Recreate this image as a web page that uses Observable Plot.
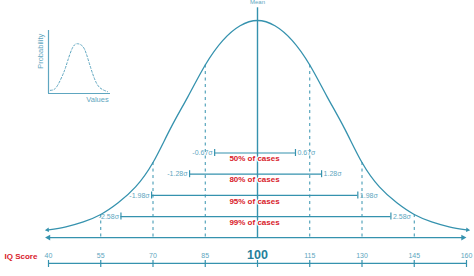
<!DOCTYPE html>
<html>
<head>
<meta charset="utf-8">
<script src="https://cdn.jsdelivr.net/npm/d3@7"></script>
<script src="https://cdn.jsdelivr.net/npm/@observablehq/plot@0.6"></script>
<style>
  html, body { margin: 0; padding: 0; background: #fff; }
  #wrap { position: relative; width: 474px; height: 276px; overflow: hidden; }
  #inset { position: absolute; left: 30px; top: 20px; }
</style>
</head>
<body>
<div id="wrap"><div id="main"></div><div id="inset"></div></div>
<script>
// ---- data ----
const iqTicks = [40, 55, 70, 85, 100, 115, 130, 145, 160];
const dashedIQ = [55, 70, 85, 115, 130, 145];
const curveIQ = [40, 45, 50, 55, 60, 65, 70, 75, 80, 85, 90, 95, 100, 105, 110, 115, 120, 125, 130, 135, 140, 145, 150, 155, 160];
const curveH  = [1.2, 2.7, 5, 8.5, 14, 21.5, 33, 49, 64, 79, 90.5, 97.5, 100, 97.5, 90.5, 79, 64, 49, 33, 21.5, 14, 8.5, 5, 2.7, 1.2];
const pctLabels = ["50% of cases", "80% of cases", "95% of cases", "99% of cases"];
const sigmaLabels = ["0.67σ", "1.28σ", "1.98σ", "2.58σ"];
const lowIQ  = [87.7, 80.5, 69.6, 60.8];
const highIQ = [110.9, 118.4, 128.8, 138.3];
const insetX = [0.3, 1.1, 1.9, 2.6, 3.1, 3.9, 4.7, 5.5, 6.1, 6.8, 7.4, 8.2, 9.5];
const insetY = [0.5, 0.8, 2.1, 3.7, 5.2, 7.3, 7.9, 7.5, 6.3, 4.1, 2.4, 1.0, 0.3];

// ---- styling / layout ----
const teal = "#3592ae", light = "#5ea6c0", red = "#d8202a";
const L = { meanTop: 106, arrow: -2.4, axis: -14.6, tickTop: -13.2, tickBot: -16.5, tickLabel: -11.1, meanLabel: 108.6 };

const curve = curveIQ.map((x, i) => ({x, y: curveH[i]}));
const hAt = (v) => curveH[curveIQ.indexOf(v)];
const intervals = pctLabels.map((p, i) => ({pct: p, sigma: sigmaLabels[i], lo: lowIQ[i], hi: highIQ[i], level: 37.5 - 10 * i}));
const first = iqTicks[0], last = iqTicks[iqTicks.length - 1], mean = iqTicks[4];

const main = Plot.plot({
  width: 474, height: 276, margin: 0,
  x: {domain: [first, last], range: [48, 466], axis: null},
  y: {domain: [0, 100], range: [232, 20], axis: null},
  style: {fontFamily: "'Liberation Sans', Arial, sans-serif", background: "white", overflow: "visible"},
  marks: [
    Plot.ruleX(dashedIQ, {x: d => d, y1: d => hAt(d), y2: () => L.arrow, stroke: teal, strokeWidth: 1, strokeDasharray: "3,3.5"}),
    Plot.ruleX([mean], {x: d => d, y1: () => L.arrow, y2: () => L.meanTop, stroke: teal, strokeWidth: 1.4}),
    Plot.line(curve, {x: "x", y: "y", curve: "natural", stroke: teal, strokeWidth: 1.3}),
    Plot.dot([curve[0]], {x: "x", y: "y", symbol: "triangle", r: 1.7, rotate: -95, fill: teal, dx: -1}),
    Plot.dot([curve[curve.length - 1]], {x: "x", y: "y", symbol: "triangle", r: 1.7, rotate: 95, fill: teal, dx: 1}),
    Plot.ruleY([L.arrow], {y: d => d, x1: () => first, x2: () => last - 1, stroke: teal, strokeWidth: 1.2}),
    Plot.dot([first], {x: d => d, y: () => L.arrow, symbol: "triangle", r: 2.2, rotate: -90, fill: teal}),
    Plot.dot([last - 1], {x: d => d, y: () => L.arrow, symbol: "triangle", r: 2.2, rotate: 90, fill: teal}),
    Plot.ruleY(intervals, {y: "level", x1: "lo", x2: "hi", stroke: teal, strokeWidth: 1.2}),
    Plot.ruleX(intervals, {x: "lo", y1: d => d.level - 1.65, y2: d => d.level + 1.65, stroke: teal, strokeWidth: 1.2}),
    Plot.ruleX(intervals, {x: "hi", y1: d => d.level - 1.65, y2: d => d.level + 1.65, stroke: teal, strokeWidth: 1.2}),
    Plot.text(intervals, {x: "lo", y: "level", text: d => "-" + d.sigma, textAnchor: "end", dx: -2, fontSize: 7, fill: light}),
    Plot.text(intervals, {x: "hi", y: "level", text: "sigma", textAnchor: "start", dx: 2, fontSize: 7, fill: light}),
    Plot.text(intervals, {x: () => mean, y: d => d.level - 2.7, text: "pct", dx: -3, fontSize: 8, fontWeight: "bold", fill: red, stroke: "white", strokeWidth: 2.5}),
    Plot.ruleY([L.axis], {y: d => d, x1: () => first, x2: () => last, stroke: teal, strokeWidth: 1.2}),
    Plot.ruleX(iqTicks, {x: d => d, y1: () => L.tickTop, y2: () => L.tickBot, stroke: teal, strokeWidth: 1.2}),
    Plot.text(iqTicks.filter(d => d !== mean), {x: d => d, y: () => L.tickLabel, text: d => String(d), fontSize: 7, fill: light}),
    Plot.text([mean], {x: d => d, y: () => L.tickLabel + 0.5, text: d => String(d), fontSize: 12.5, fontWeight: "bold", fill: "#277f9b"}),
    Plot.text(["IQ Score"], {x: () => first, y: () => L.tickLabel, text: d => d, textAnchor: "start", dx: -44, fontSize: 8, fontWeight: "bold", fill: red}),
    Plot.text(["Mean"], {x: () => mean, y: () => L.meanLabel, text: d => d, fontSize: 6, fill: light})
  ]
});
document.getElementById("main").appendChild(main);

const inset = Plot.plot({
  width: 80, height: 85, marginLeft: 18, marginRight: 0, marginTop: 10, marginBottom: 12,
  x: {domain: [0, 10], axis: null},
  y: {domain: [0, 10], axis: null},
  style: {fontFamily: "'Liberation Sans', Arial, sans-serif", background: "transparent", overflow: "visible"},
  marks: [
    Plot.ruleX([0], {stroke: light, strokeWidth: 1.2}),
    Plot.ruleY([0], {stroke: light, strokeWidth: 1.2}),
    Plot.line(insetX.map((x, i) => ({x, y: insetY[i]})), {x: "x", y: "y", curve: "natural", stroke: light, strokeWidth: 1, strokeDasharray: "2,2"}),
    Plot.text(["Probability"], {x: () => 0, y: () => 6.7, text: d => d, rotate: -90, dx: -8, fontSize: 7.5, fill: light}),
    Plot.text(["Values"], {x: () => 7.9, y: () => 0, text: d => d, dy: 6.5, fontSize: 7.5, fill: light})
  ]
});
document.getElementById("inset").appendChild(inset);
</script>
</body>
</html>
